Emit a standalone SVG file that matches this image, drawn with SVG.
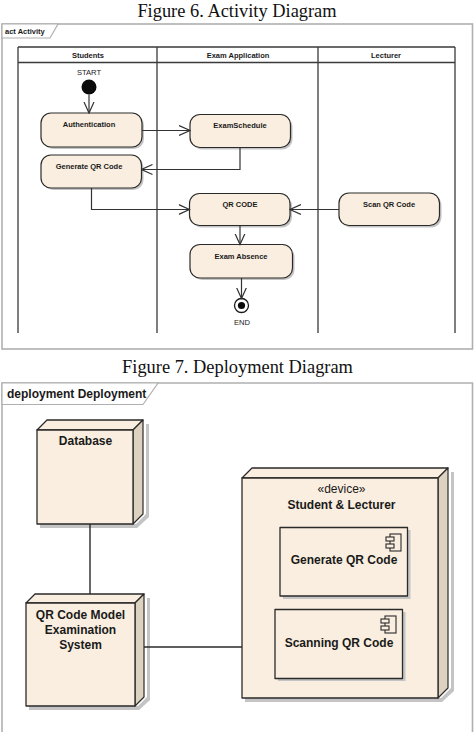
<svg xmlns="http://www.w3.org/2000/svg" width="474" height="732" viewBox="0 0 474 732">
<style>
.title{font-family:"Liberation Serif","Times New Roman",serif;font-size:18.4px;fill:#111;text-anchor:middle}
.frame{fill:none;stroke:#b0b0b0;stroke-width:1.6}
.tab{fill:#fff;stroke:#b0b0b0;stroke-width:1.2}
.lane{fill:none;stroke:#3a3a3a;stroke-width:1.3}
.sans{font-family:"Liberation Sans",Arial,sans-serif;fill:#1a1a1a}
.b75{font-size:7.5px;font-weight:bold;text-anchor:middle}
.r75{font-size:7.6px;text-anchor:middle}
.b12{font-size:12px;font-weight:bold;text-anchor:middle}
.r12{font-size:12px;text-anchor:middle}
.act{fill:#f9eedf;stroke:#2a2a2a;stroke-width:1.2}
.shadow{fill:#c4c4c4}
.side{fill:#ddd1bf;stroke:#2a2a2a;stroke-width:1.2;stroke-linejoin:round}
.face{fill:#f9eedf;stroke:#2a2a2a;stroke-width:1.3;stroke-linejoin:round}
.conn{fill:none;stroke:#333;stroke-width:1.2}
.dconn{fill:none;stroke:#2a2a2a;stroke-width:1.4}
</style>
<defs>
<marker id="arr" viewBox="0 0 12 12" refX="11" refY="6" markerWidth="12" markerHeight="12" markerUnits="userSpaceOnUse" orient="auto">
<path d="M0,1 L11,6 L0,11" fill="none" stroke="#333" stroke-width="1.2"/>
</marker>
<g id="compicon">
<rect x="4" y="0" width="11" height="17" fill="#f9eedf" stroke="#2a2a2a" stroke-width="1.1"/>
<rect x="0" y="3" width="8" height="4" fill="#f9eedf" stroke="#2a2a2a" stroke-width="1.1"/>
<rect x="0" y="10" width="8" height="4" fill="#f9eedf" stroke="#2a2a2a" stroke-width="1.1"/>
</g>
</defs>
<rect width="474" height="732" fill="#fff"/>

<!-- Figure 6 -->
<text class="title" x="237" y="16.5">Figure 6. Activity Diagram</text>
<rect class="frame" x="2" y="24" width="470.5" height="325"/>
<path class="tab" d="M2,24 L58,24 L50,38 L2,38 Z"/>
<text class="sans" x="5" y="33.5" font-size="7.5" font-weight="bold">act Activity</text>

<g id="swimlanes">
<path class="lane" d="M18,47 H455 M18,62.5 H455 M18,47 V333 M157,47 V333 M318,47 V333 M455,47 V333"/>
<text class="sans b75" x="88" y="58">Students</text>
<text class="sans b75" x="238" y="58">Exam Application</text>
<text class="sans b75" x="386" y="58">Lecturer</text>
</g>

<g id="start">
<text class="sans r75" x="89" y="75">START</text>
<circle cx="89" cy="87" r="7.5" fill="#0a0a0a"/>
</g>

<g id="authentication">
<rect class="shadow" x="43" y="115" width="101" height="34" rx="10"/>
<rect class="act" x="41" y="113" width="101" height="34" rx="10"/>
<text class="sans b75" x="89" y="127">Authentication</text>
</g>

<g id="generate">
<rect class="shadow" x="43" y="157" width="100.5" height="33" rx="10"/>
<rect class="act" x="41" y="155" width="100.5" height="33" rx="10"/>
<text class="sans b75" x="89" y="169">Generate QR Code</text>
</g>

<g id="examschedule">
<rect class="shadow" x="192" y="116.5" width="100.5" height="33" rx="10"/>
<rect class="act" x="190" y="114.5" width="100.5" height="33" rx="10"/>
<text class="sans b75" x="240" y="127.5">ExamSchedule</text>
</g>

<g id="qrcode">
<rect class="shadow" x="191.5" y="195.5" width="100.5" height="32" rx="10"/>
<rect class="act" x="189.5" y="193.5" width="100.5" height="32" rx="10"/>
<text class="sans b75" x="240" y="207">QR CODE</text>
</g>

<g id="scanqr">
<rect class="shadow" x="341" y="195" width="100.5" height="32.5" rx="10"/>
<rect class="act" x="339" y="193" width="100.5" height="32.5" rx="10"/>
<text class="sans b75" x="389" y="207">Scan QR Code</text>
</g>

<g id="examabsence">
<rect class="shadow" x="192" y="246.5" width="102.5" height="33.5" rx="10"/>
<rect class="act" x="190" y="244.5" width="102.5" height="33.5" rx="10"/>
<text class="sans b75" x="241" y="258.5">Exam Absence</text>
</g>

<g id="end">
<circle cx="241.5" cy="305.5" r="7" fill="#fff" stroke="#1a1a1a" stroke-width="1.3"/>
<circle cx="241.5" cy="305.5" r="3.6" fill="#0a0a0a"/>
<text class="sans r75" x="242" y="325">END</text>
</g>

<g id="connectors">
<path class="conn" d="M89,94.5 V113" marker-end="url(#arr)"/>
<path class="conn" d="M142,130.5 H190" marker-end="url(#arr)"/>
<path class="conn" d="M240,147.5 V169.5 H141.5" marker-end="url(#arr)"/>
<path class="conn" d="M91.5,188 V209.5 H189.5" marker-end="url(#arr)"/>
<path class="conn" d="M339,209.5 H290" marker-end="url(#arr)"/>
<path class="conn" d="M240,225.5 V244.5" marker-end="url(#arr)"/>
<path class="conn" d="M241.5,278 V298.5" marker-end="url(#arr)"/>
</g>

<!-- Figure 7 -->
<text class="title" x="237.5" y="372.5">Figure 7. Deployment Diagram</text>
<path class="frame" d="M2,740 V383 H472.5 V740"/>
<path class="tab" d="M2,383 L158,383 L143,404.5 L2,404.5 Z"/>
<text class="sans" x="7" y="397.5" font-size="12" font-weight="bold">deployment Deployment</text>

<g id="database">
<path class="shadow" d="M40,524 H136 L146,514 V424 H149 V517 L137,528 H40 Z"/>
<path class="face" d="M37,430 L47,420 L143,420 L133,430 Z"/>
<path class="side" d="M133,430 L143,420 L143,514 L133,524 Z"/>
<rect class="face" x="37" y="430" width="96" height="94"/>
<text class="sans b12" x="85.5" y="445">Database</text>
</g>

<g id="qrsystem">
<path class="shadow" d="M29,706 H138 L147,697 V598 H150 V700 L139,710 H29 Z"/>
<path class="face" d="M26,603 L35,594 L144,594 L135,603 Z"/>
<path class="side" d="M135,603 L144,594 L144,697 L135,706 Z"/>
<rect class="face" x="26" y="603" width="109" height="103"/>
<text class="sans b12" x="80.5" y="618.5">QR Code Model</text>
<text class="sans b12" x="80.5" y="633.5">Examination</text>
<text class="sans b12" x="80.5" y="648.5">System</text>
</g>

<g id="device">
<path class="shadow" d="M245,698 H441 L451,688 V472 H454 V691 L442,702 H245 Z"/>
<path class="face" d="M242,478 L252,468 L448,468 L438,478 Z"/>
<path class="side" d="M438,478 L448,468 L448,688 L438,698 Z"/>
<rect class="face" x="242" y="478" width="196" height="220"/>
<text class="sans r12" x="341.5" y="493">«device»</text>
<text class="sans b12" x="341.5" y="508.5">Student &amp; Lecturer</text>
</g>

<g id="comp-generate">
<rect class="shadow" x="283" y="530" width="127.5" height="69"/>
<rect class="face" x="280" y="527.5" width="127.5" height="68.5"/>
<use href="#compicon" x="386" y="534"/>
<text class="sans b12" x="344" y="563.5">Generate QR Code</text>
</g>

<g id="comp-scanning">
<rect class="shadow" x="278" y="612" width="127.5" height="69"/>
<rect class="face" x="275" y="609.5" width="127.5" height="69"/>
<use href="#compicon" x="381" y="616"/>
<text class="sans b12" x="339" y="647">Scanning QR Code</text>
</g>

<g id="deploy-connectors">
<path class="dconn" d="M90,524 V594"/>
<path class="dconn" d="M144,647 H242"/>
</g>
</svg>
